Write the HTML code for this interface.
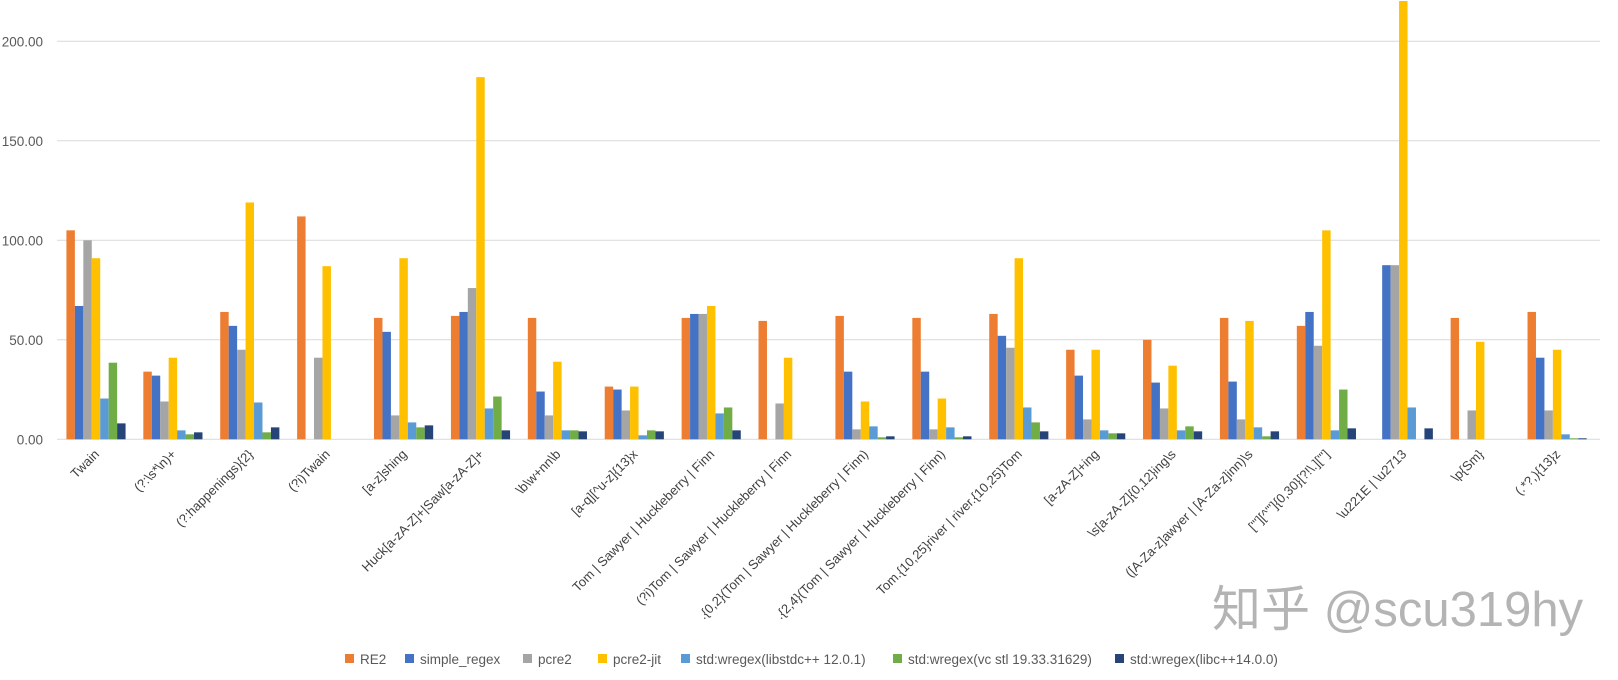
<!DOCTYPE html>
<html><head><meta charset="utf-8">
<style>
html,body{margin:0;padding:0;background:#fff;}
svg{display:block;}
text{font-family:"Liberation Sans","Noto Sans CJK SC",sans-serif;}
</style></head>
<body>
<svg id="c" width="1618" height="680" xmlns="http://www.w3.org/2000/svg">
<rect width="1618" height="680" fill="#fff"/>
<g id="grid"></g>
<g id="bars"></g>
<g id="labels"></g>
<g font-size="13.5" fill="#595959">
<rect x="345" y="654" width="9" height="9" fill="#ED7D31"/><text x="360" y="664">RE2</text>
<rect x="405" y="654" width="9" height="9" fill="#4472C4"/><text x="420" y="664">simple_regex</text>
<rect x="523" y="654" width="9" height="9" fill="#A5A5A5"/><text x="538" y="664">pcre2</text>
<rect x="598" y="654" width="9" height="9" fill="#FFC000"/><text x="613" y="664">pcre2-jit</text>
<rect x="681" y="654" width="9" height="9" fill="#5B9BD5"/><text x="696" y="664">std:wregex(libstdc++ 12.0.1)</text>
<rect x="893" y="654" width="9" height="9" fill="#70AD47"/><text x="908" y="664">std:wregex(vc stl 19.33.31629)</text>
<rect x="1115" y="654" width="9" height="9" fill="#264478"/><text x="1130" y="664">std:wregex(libc++14.0.0)</text>
</g>
<text x="1212" y="626" font-size="49" fill="#b4b4b4" font-family="'Liberation Sans','Noto Sans CJK SC',sans-serif">知乎 @scu319hy</text>
</svg>
<script>
const cats=["Twain","(?:\\s*\\n)+","(?:happenings){2}","(?i)Twain","[a-z]shing","Huck[a-zA-Z]+|Saw[a-zA-Z]+","\\b\\w+nn\\b","[a-q][^u-z]{13}x","Tom | Sawyer | Huckleberry | Finn","(?i)Tom | Sawyer | Huckleberry | Finn",".{0,2}(Tom | Sawyer | Huckleberry | Finn)",".{2,4}(Tom | Sawyer | Huckleberry | Finn)","Tom.{10,25}river | river.{10,25}Tom","[a-zA-Z]+ing","\\s[a-zA-Z]{0,12}ing\\s","([A-Za-z]awyer | [A-Za-z]inn)\\s","[\"'][^\"']{0,30}[?!\\.][\"']","\\u221E | \\u2713","\\p{Sm}","(.*?,){13}z"];
const vals=[
[105,67,100,91,20.5,38.5,8],
[34,32,19,41,4.5,2.5,3.5],
[64,57,45,119,18.5,3.5,6],
[112,0,41,87,0,0,0],
[61,54,12,91,8.5,6,7],
[62,64,76,182,15.5,21.5,4.5],
[61,24,12,39,4.5,4.5,4],
[26.5,25,14.5,26.5,2,4.5,4],
[61,63,63,67,13,16,4.5],
[59.5,0,18,41,0,0,0],
[62,34,5,19,6.5,1,1.5],
[61,34,5,20.5,6,1,1.5],
[63,52,46,91,16,8.5,4],
[45,32,10,45,4.5,3,3],
[50,28.5,15.5,37,4.5,6.5,4],
[61,29,10,59.5,6,1.5,4],
[57,64,47,105,4.5,25,5.5],
[0,87.5,87.5,230,16,0,5.5],
[61,0,14.5,49,0,0,0],
[64,41,14.5,45,2.5,0.5,0.5]];
const cols=["#ED7D31","#4472C4","#A5A5A5","#FFC000","#5B9BD5","#70AD47","#264478"];
const ns="http://www.w3.org/2000/svg";
const z=439.3,k=1.99;
function el(t,a,p,txt){const e=document.createElementNS(ns,t);for(const q in a)e.setAttribute(q,a[q]);if(txt!=null)e.textContent=txt;document.getElementById(p).appendChild(e);}
for(let i=0;i<=4;i++){const y=z-i*50*k;
el("line",{x1:57,x2:1600,y1:y,y2:y,stroke:"#d9d9d9","stroke-width":1},"grid");
el("text",{x:43,y:y+5,"text-anchor":"end","font-size":"13.5",fill:"#595959"},"grid",(i*50).toFixed(2));}
const bw=8.45;
cats.forEach((c,i)=>{
 const cx=96+i*76.9;
 const x0=cx-3.5*bw;
 vals[i].forEach((v,j)=>{ if(v<=0)return; let h=v*k; let y=z-h; if(y<1){y=1;h=z-1;}
  el("rect",{x:x0+j*bw,y:y,width:bw,height:h,fill:cols[j]},"bars");});
 const tx=cx+4,ty=455;
 el("text",{x:tx,y:ty,"text-anchor":"end","font-size":"13",fill:"#404040",transform:`rotate(-45 ${tx} ${ty})`},"labels",c);
});
</script>
</body></html>
